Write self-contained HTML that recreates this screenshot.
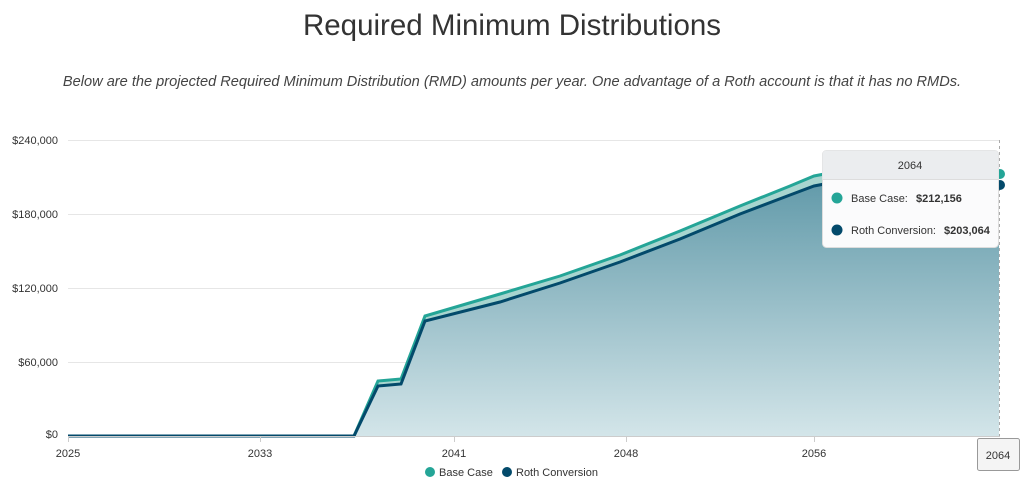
<!DOCTYPE html>
<html><head><meta charset="utf-8"><style>
body{margin:0;background:#fff;width:1032px;height:484px;overflow:hidden;font-family:"Liberation Sans",sans-serif}
</style></head><body>
<svg width="1032" height="484" xmlns="http://www.w3.org/2000/svg" font-family="Liberation Sans, sans-serif">
<defs>
<linearGradient id="g" gradientUnits="userSpaceOnUse" x1="0" y1="170" x2="0" y2="436">
<stop offset="0" stop-color="#5d97a7"/><stop offset="1" stop-color="#d3e5e9"/></linearGradient>
</defs>
<text x="512" y="35" text-anchor="middle" font-size="29.5" fill="#333">Required Minimum Distributions</text>
<text x="512" y="86" text-anchor="middle" font-size="14.6" font-style="italic" fill="#444">Below are the projected Required Minimum Distribution (RMD) amounts per year. One advantage of a Roth account is that it has no RMDs.</text>
<g stroke="#e6e6e6" stroke-width="1">
<line x1="68" y1="140.5" x2="1000" y2="140.5"/><line x1="68" y1="214.5" x2="1000" y2="214.5"/><line x1="68" y1="288.5" x2="1000" y2="288.5"/><line x1="68" y1="362.5" x2="1000" y2="362.5"/>
</g>
<g font-size="11" fill="#333" text-anchor="end">
<text x="58" y="144">$240,000</text><text x="58" y="218">$180,000</text><text x="58" y="292">$120,000</text><text x="58" y="366">$60,000</text><text x="58" y="438">$0</text>
</g>
<path d="M68,436 L354,436 L378,381 L401,379 L425,316 L500,294 L560,276 L620,255 L680,231 L740,206 L790,186 L814,176 L840,171 L870,172 L940,173 L999,174 L999,436 Z" fill="#a8d5cf"/>
<path d="M68,436 L354,436 L378,386 L401,384 L425,321 L500,302 L560,283 L620,262 L680,239 L740,214 L790,195 L814,186 L840,181 L870,182 L940,184 L999,185 L999,436 Z" fill="url(#g)"/>
<path d="M68,436 L354,436 L378,381 L401,379 L425,316 L500,294 L560,276 L620,255 L680,231 L740,206 L790,186 L814,176 L840,171 L870,172 L940,173 L999,174" fill="none" stroke="#24a597" stroke-width="3"/>
<path d="M68,436 L354,436 L378,386 L401,384 L425,321 L500,302 L560,283 L620,262 L680,239 L740,214 L790,195 L814,186 L840,181 L870,182 L940,184 L999,185" fill="none" stroke="#034a6b" stroke-width="3"/>
<line x1="999.5" y1="140" x2="999.5" y2="436" stroke="#aaa" stroke-dasharray="3,3"/>
<line x1="68" y1="436.5" x2="1000" y2="436.5" stroke="#ccc"/>
<g stroke="#ccc"><line x1="68.5" y1="436" x2="68.5" y2="442"/><line x1="260.5" y1="436" x2="260.5" y2="442"/><line x1="454.5" y1="436" x2="454.5" y2="442"/><line x1="626.5" y1="436" x2="626.5" y2="442"/><line x1="814.5" y1="436" x2="814.5" y2="442"/></g>
<g font-size="11" fill="#333" text-anchor="middle">
<text x="68" y="457">2025</text><text x="260" y="457">2033</text><text x="454" y="457">2041</text><text x="626" y="457">2048</text><text x="814" y="457">2056</text>
</g>
<circle cx="1000" cy="174" r="5" fill="#24a597"/><circle cx="1000" cy="185" r="5" fill="#034a6b"/>
<rect x="977.5" y="438.5" width="42" height="32" rx="2" fill="#f4f4f4" stroke="#999"/>
<text x="998" y="459" font-size="11" text-anchor="middle" fill="#333">2064</text>
<rect x="822.5" y="150.5" width="176" height="97" rx="4" fill="#fbfbfc" stroke="#ddd"/>
<path d="M822.5,179.5 V154.5 a4,4 0 0 1 4,-4 H994.5 a4,4 0 0 1 4,4 V179.5 Z" fill="#ebedef"/>
<line x1="822.5" y1="179.5" x2="998.5" y2="179.5" stroke="#ddd"/>
<text x="910" y="169" font-size="11" text-anchor="middle" fill="#333">2064</text>
<circle cx="837" cy="198" r="5.5" fill="#24a597"/>
<text x="851" y="202" font-size="11" fill="#333">Base Case:</text>
<text x="916" y="202" font-size="11" font-weight="bold" fill="#333">$212,156</text>
<circle cx="837" cy="230" r="5.5" fill="#034a6b"/>
<text x="851" y="234" font-size="11" fill="#333">Roth Conversion:</text>
<text x="944" y="234" font-size="11" font-weight="bold" fill="#333">$203,064</text>
<circle cx="430" cy="472" r="5" fill="#24a597"/><text x="439" y="476" font-size="11" fill="#333">Base Case</text>
<circle cx="507" cy="472" r="5" fill="#034a6b"/><text x="516" y="476" font-size="11" fill="#333">Roth Conversion</text>
</svg>
</body></html>
